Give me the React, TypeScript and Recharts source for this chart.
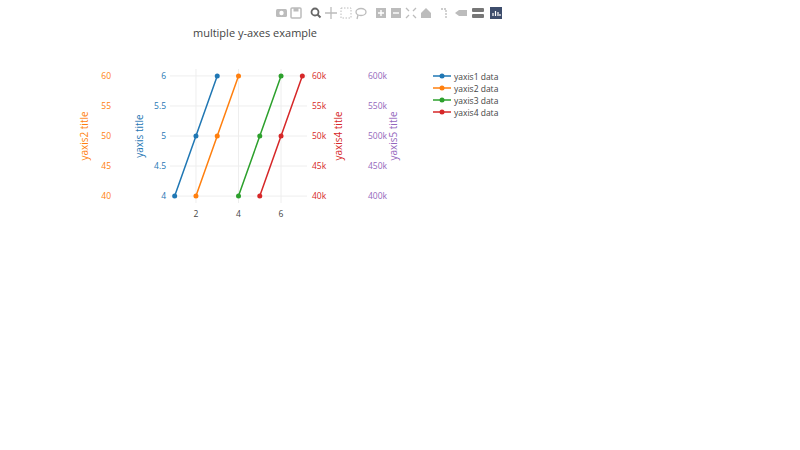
import { LineChart, Line, XAxis, YAxis, CartesianGrid } from "recharts";

// series, as in the plotly example: each trace has its own x values
const x1 = [1, 2, 3];
const y1 = [4, 5, 6];
const x2 = [2, 3, 4];
const y2 = [40, 50, 60];
const x3 = [4, 5, 6];
const y3 = [40000, 50000, 60000];
const x4 = [5, 6, 7];
const y4 = [400000, 500000, 600000];

const xTicks = [2, 4, 6];
const ticks1 = [4, 4.5, 5, 5.5, 6];
const ticks2 = [40, 45, 50, 55, 60];
const ticks3 = [40000, 45000, 50000, 55000, 60000];
const ticks4 = [400000, 450000, 500000, 550000, 600000];

const seriesNames = ["yaxis1 data", "yaxis2 data", "yaxis3 data", "yaxis4 data"];
const seriesColors = ["#1f77b4", "#ff7f0e", "#2ca02c", "#d62728"];

const FONT = '"Open Sans", sans-serif';
const TICK = 8.5;

// merge the traces into one table keyed by x
function buildRows() {
  const traces: [string, number[], number[]][] = [
    ["s1", x1, y1],
    ["s2", x2, y2],
    ["s3", x3, y3],
    ["s4", x4, y4],
  ];
  const map = new Map<number, Record<string, number>>();
  traces.forEach(([key, xs, ys]) => {
    xs.forEach((x, i) => {
      const row = map.get(x) ?? { x };
      row[key] = ys[i];
      map.set(x, row);
    });
  });
  return [...map.values()].sort((a, b) => a.x - b.x);
}

const rows = buildRows();

const kFormat = (v: number) => `${v / 1000}k`;

function AxisTitle({ viewBox, value, color, dx }: any) {
  if (!viewBox) return null;
  const cx = viewBox.x + dx;
  const cy = viewBox.y + viewBox.height / 2;
  return (
    <text
      x={cx}
      y={cy}
      transform={`rotate(-90 ${cx} ${cy})`}
      textAnchor="middle"
      dominantBaseline="central"
      fill={color}
      fontSize={10}
      fontFamily={FONT}
    >
      {value}
    </text>
  );
}

function ModeBar() {
  const g = "#bcbcbc";
  return (
    <svg width={240} height={20} style={{ position: "absolute", left: 270, top: 3 }}>
      {/* camera */}
      <rect x={6} y={6} width={11} height={8} rx={1.5} fill={g} />
      <circle cx={11.5} cy={10} r={2.2} fill="#fff" />
      {/* save */}
      <rect x={21} y={5} width={10} height={10} rx={1} fill="none" stroke={g} strokeWidth={1.5} />
      <rect x={23.5} y={5} width={5} height={3.5} fill={g} />
      {/* zoom */}
      <circle cx={45} cy={9} r={3.5} fill="none" stroke="#666" strokeWidth={1.8} />
      <line x1={47.5} y1={11.5} x2={50.5} y2={14.5} stroke="#666" strokeWidth={2} />
      {/* pan */}
      <path d="M61 4 V16 M55 10 H67" stroke={g} strokeWidth={1.3} />
      {/* box select */}
      <rect x={71} y={5} width={10} height={10} fill="none" stroke={g} strokeDasharray="1.5 1.5" />
      {/* lasso */}
      <ellipse cx={91} cy={9} rx={5} ry={3.5} fill="none" stroke={g} strokeWidth={1.3} />
      <path d="M88 12 L87 16" stroke={g} strokeWidth={1.3} />
      {/* zoom in / out */}
      <rect x={106} y={5} width={10} height={10} fill={g} />
      <path d="M108 10 H114 M111 7 V13" stroke="#fff" strokeWidth={1.4} />
      <rect x={121} y={5} width={10} height={10} fill={g} />
      <path d="M123 10 H129" stroke="#fff" strokeWidth={1.4} />
      {/* autoscale */}
      <path d="M136 5 l3 3 M146 5 l-3 3 M136 15 l3 -3 M146 15 l-3 -3" stroke={g} strokeWidth={1.3} />
      {/* home */}
      <path d="M151 10 L156 5 L161 10 V15 H151 Z" fill={g} />
      {/* spikelines */}
      <path d="M171 6 H176 V15" stroke={g} strokeWidth={1.3} fill="none" strokeDasharray="2 1" />
      {/* hover closest */}
      <path d="M185 10 L189 7 H197 V13 H189 Z" fill={g} />
      {/* compare */}
      <rect x={202} y={5} width={12} height={4} rx={1} fill="#777" />
      <rect x={202} y={11} width={12} height={4} rx={1} fill="#777" />
      {/* logo */}
      <rect x={220} y={4} width={12} height={12} fill="#3d4d6c" />
      <path d="M223 13 V10 M225.5 13 V8 M228 13 V9 M230 13 V11" stroke="#fff" strokeWidth={1.2} />
    </svg>
  );
}

export default function App() {
  return (
    <div
      style={{
        position: "absolute",
        left: 0,
        top: 0,
        width: 800,
        height: 450,
        background: "#fff",
        fontFamily: FONT,
      }}
    >
      <ModeBar />
      <div
        style={{
          position: "absolute",
          left: 155,
          width: 200,
          top: 25,
          textAlign: "center",
          fontSize: 11,
          color: "#444",
        }}
      >
        multiple y-axes example
      </div>

      <LineChart
        width={800}
        height={450}
        data={rows}
        margin={{ top: 69, right: 393, bottom: 217, left: 60 }}
      >
        <CartesianGrid
          yAxisId="y1"
          stroke="#eee"
          horizontalValues={ticks1}
          verticalValues={xTicks}
        />
        <XAxis
          dataKey="x"
          type="number"
          domain={[0.78, 7.22]}
          ticks={xTicks}
          allowDataOverflow
          axisLine={false}
          tickLine={false}
          tickSize={0}
          tickMargin={8}
          height={30}
          tick={{ fill: "#444", fontSize: TICK, fontFamily: FONT }}
        />
        <YAxis
          yAxisId="y1"
          orientation="left"
          width={50}
          domain={[3.885, 6.115]}
          ticks={ticks1}
          allowDataOverflow
          axisLine={false}
          tickLine={false}
          tickSize={0}
          tickMargin={4}
          tick={{ fill: "#1f77b4", fontSize: TICK, fontFamily: FONT }}
          label={<AxisTitle value="yaxis title" color="#1f77b4" dx={19} />}
        />
        <YAxis
          yAxisId="y2"
          orientation="left"
          width={60}
          domain={[38.85, 61.15]}
          ticks={ticks2}
          allowDataOverflow
          axisLine={false}
          tickLine={false}
          tickSize={0}
          tickMargin={9}
          tick={{ fill: "#ff7f0e", fontSize: TICK, fontFamily: FONT }}
          label={<AxisTitle value="yaxis2 title" color="#ff7f0e" dx={24} />}
        />
        <YAxis
          yAxisId="y3"
          orientation="right"
          width={50}
          domain={[38850, 61150]}
          ticks={ticks3}
          tickFormatter={kFormat}
          allowDataOverflow
          axisLine={false}
          tickLine={false}
          tickSize={0}
          tickMargin={5}
          tick={{ fill: "#d62728", fontSize: TICK, fontFamily: FONT }}
          label={<AxisTitle value="yaxis4 title" color="#d62728" dx={31} />}
        />
        <YAxis
          yAxisId="y4"
          orientation="right"
          width={50}
          domain={[388500, 611500]}
          ticks={ticks4}
          tickFormatter={kFormat}
          allowDataOverflow
          axisLine={false}
          tickLine={false}
          tickSize={0}
          tickMargin={11}
          tick={{ fill: "#9467bd", fontSize: TICK, fontFamily: FONT }}
          label={<AxisTitle value="yaxis5 title" color="#9467bd" dx={36} />}
        />
        {["s1", "s2", "s3", "s4"].map((key, i) => (
          <Line
            key={key}
            yAxisId={`y${i + 1}`}
            dataKey={key}
            name={seriesNames[i]}
            stroke={seriesColors[i]}
            strokeWidth={1.5}
            dot={{ r: 2.5, fill: seriesColors[i], stroke: seriesColors[i], strokeWidth: 0 }}
            activeDot={false}
            isAnimationActive={false}
          />
        ))}
      </LineChart>

      <div style={{ position: "absolute", left: 432, top: 70 }}>
        {seriesNames.map((name, i) => (
          <div
            key={name}
            style={{ display: "flex", alignItems: "center", height: 12, fontSize: 8.5, color: "#444" }}
          >
            <svg width={22} height={12}>
              <line x1={1} y1={6} x2={19} y2={6} stroke={seriesColors[i]} strokeWidth={1.5} />
              <circle cx={10} cy={6} r={2.5} fill={seriesColors[i]} />
            </svg>
            <span>{name}</span>
          </div>
        ))}
      </div>
    </div>
  );
}
